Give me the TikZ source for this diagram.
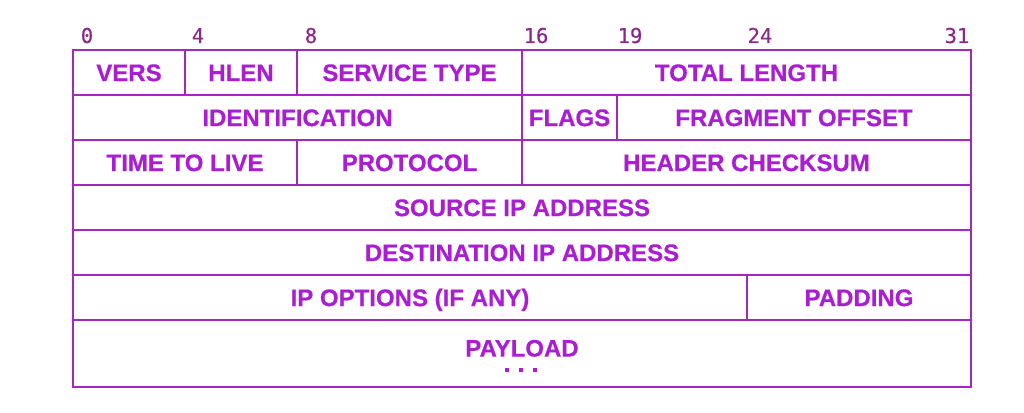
\documentclass[tikz,border=0pt]{standalone}
\usepackage{fontspec}
\setmainfont{Liberation Sans}
\newfontfamily\cellfont{Liberation Sans Bold}[FakeBold=0.6]
\newfontfamily\bitfont{DejaVu Sans Mono}[FakeBold=0.4]
\definecolor{lineC}{RGB}{165,40,190}
\definecolor{textC}{RGB}{170,30,210}
\definecolor{bitC}{RGB}{140,40,140}
\begin{document}
\begin{tikzpicture}[x=1pt,y=-1pt,
  cell/.style={draw=lineC, line width=2.6pt, rectangle, inner sep=0pt, text=textC,
    font=\cellfont\fontsize{24}{26}\selectfont, line join=miter,
    text height=17.2pt, text depth=0pt},
  bit/.style={text=bitC, font=\bitfont\fontsize{20.5}{22}\selectfont, inner sep=0pt, anchor=base},
  dotsq/.style={fill=textC, minimum size=3.8pt, inner sep=0pt, rectangle}]
\useasboundingbox (0,0) rectangle (1024,412);
% bit labels
\node[bit] (b0) at (87,43) {0};
\node[bit] (b4) at (198,43) {4};
\node[bit] (b8) at (311,43) {8};
\node[bit] (b16) at (536,43) {16};
\node[bit] (b19) at (630,43) {19};
\node[bit] (b24) at (760,43) {24};
\node[bit] (b31) at (957,43) {31};
% row 1
\node[cell, minimum width=112pt, minimum height=45pt] (vers) at (129,72.5) {VERS};
\node[cell, minimum width=112pt, minimum height=45pt] (hlen) at (241,72.5) {HLEN};
\node[cell, minimum width=225pt, minimum height=45pt] (tos) at (409.5,72.5) {SERVICE TYPE};
\node[cell, minimum width=449pt, minimum height=45pt] (tlen) at (746.5,72.5) {TOTAL LENGTH};
% row 2
\node[cell, minimum width=449pt, minimum height=45pt] (ident) at (297.5,117.5) {IDENTIFICATION};
\node[cell, minimum width=95pt, minimum height=45pt] (flags) at (569.5,117.5) {FLAGS};
\node[cell, minimum width=354pt, minimum height=45pt] (frag) at (794,117.5) {FRAGMENT OFFSET};
% row 3
\node[cell, minimum width=224pt, minimum height=45pt] (ttl) at (185,162.5) {TIME TO LIVE};
\node[cell, minimum width=225pt, minimum height=45pt] (proto) at (409.5,162.5) {PROTOCOL};
\node[cell, minimum width=449pt, minimum height=45pt] (csum) at (746.5,162.5) {HEADER CHECKSUM};
% row 4
\node[cell, minimum width=898pt, minimum height=45pt] (src) at (522,207.5) {SOURCE IP ADDRESS};
% row 5
\node[cell, minimum width=898pt, minimum height=45pt] (dst) at (522,252.5) {DESTINATION IP ADDRESS};
% row 6
\node[cell, minimum width=674pt, minimum height=45pt] (opts) at (410,297.5) {IP OPTIONS (IF ANY)};
\node[cell, minimum width=224pt, minimum height=45pt] (pad) at (859,297.5) {PADDING};
% row 7
\node[cell, minimum width=898pt, minimum height=67pt] (payload) at (522,353.5) {};
\node[text=textC, font=\cellfont\fontsize{24}{26}\selectfont, inner sep=0pt,
  text height=17.2pt, text depth=0pt] (ptext) at (522,348) {PAYLOAD};
\node[dotsq] (d1) at (507,370) {};
\node[dotsq] (d2) at (521,370) {};
\node[dotsq] (d3) at (535,370) {};
\end{tikzpicture}
\end{document}
